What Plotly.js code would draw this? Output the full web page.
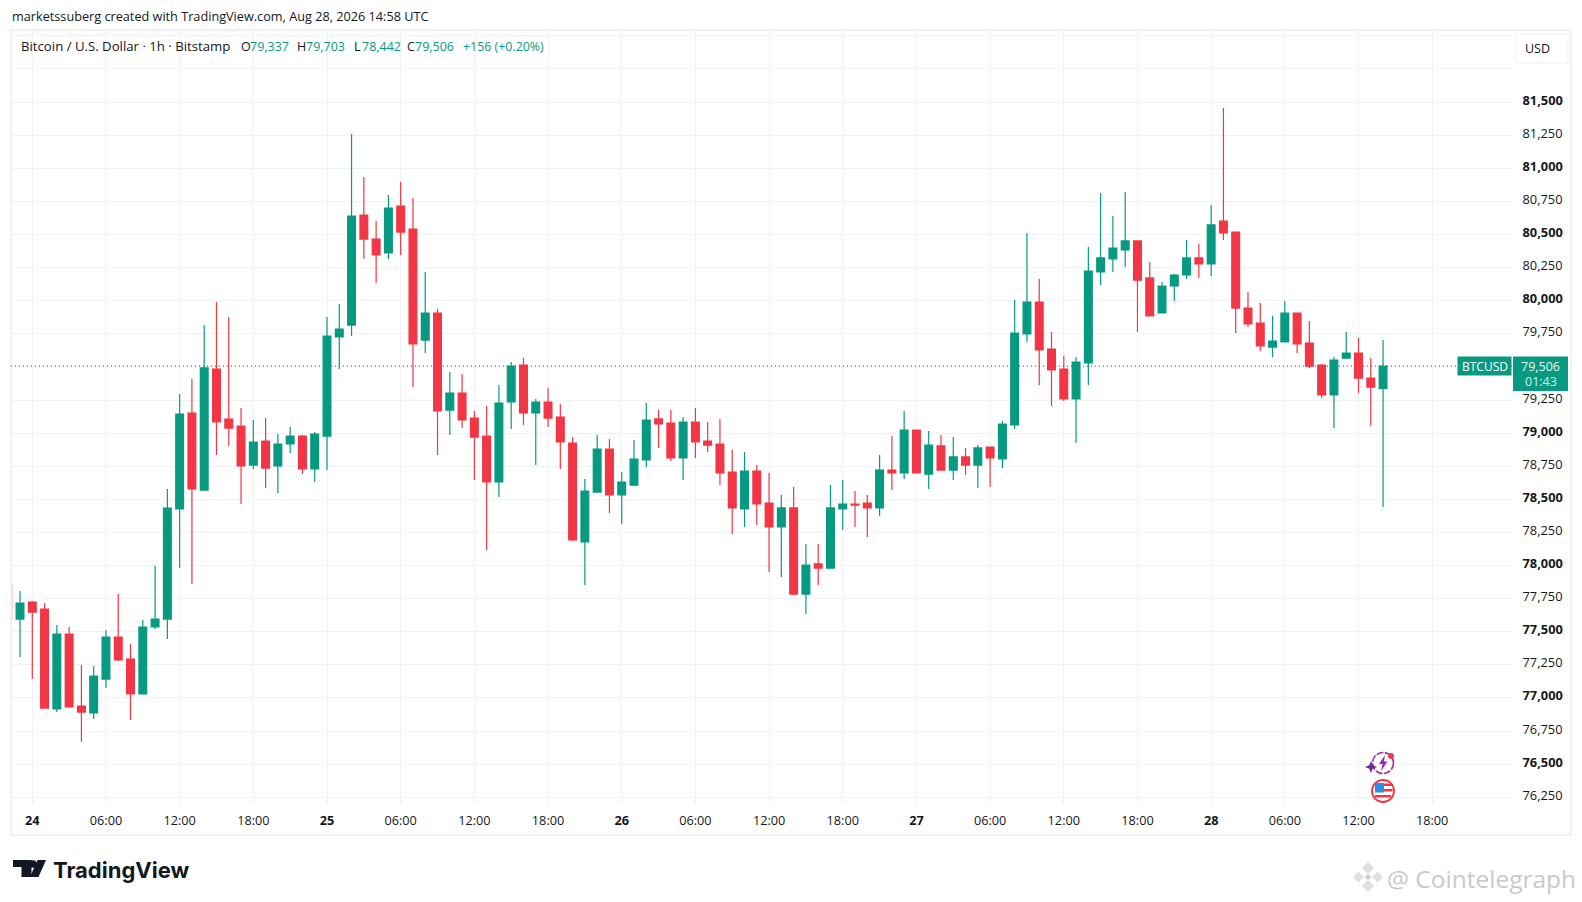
<!DOCTYPE html>
<html>
<head>
<meta charset="utf-8">
<title>BTCUSD 1h</title>
<script src="https://cdn.plot.ly/plotly-3.0.1.min.js"></script>
<style>
  html, body { margin: 0; padding: 0; background: #fff; }
</style>
</head>
<body>
<div id="chart"></div>
<script>
// hourly candles, first one is Aug 23 22:00
const open = [
  77853,77596,77725,77672,76917,77483,76939,76887,77143,77460,77294,77030,77536,77596,78427,79152,78570,79484,79106,79054,78759,78940,78752,78918,78978,78729,78978,
  79726,79816,80647,80465,80360,80715,80541,79703,79907,79174,79303,79114,78978,78631,79235,79514,79152,79235,79121,78925,78178,78555,78880,78533,78608,78797,
  79107,79076,78812,79084,78940,78918,78706,78427,78714,78472,78291,78435,77785,78012,77981,78427,78465,78472,78435,78721,78699,79023,78691,78903,78721,78820,78759,78895,78805,
  79062,79749,79990,79635,79484,79258,79530,80217,80315,80383,80451,80172,79907,80111,80194,80323,80277,80601,80518,79944,79831,79650,79688,79907,79680,79514,79288,79567,79605,79416,79337
];
const high = [
  77853,77808,77732,77717,77551,77536,77249,77241,77513,77785,77408,77589,77997,78578,79295,79408,79816,79990,79877,79190,79099,79114,78993,79046,78986,79008,79877,
  79975,81258,80934,80601,80798,80896,80775,80216,79937,79461,79446,79167,79205,79363,79537,79567,79257,79340,79220,78970,78653,78986,78955,78706,78948,79227,
  79174,79174,79122,79190,79084,79107,78872,78857,78759,78699,78533,78593,78163,78163,78608,78646,78563,78533,78835,78978,79167,79023,79016,78986,78971,78888,78910,78895,79091,
  80005,80511,80164,79764,79583,79575,80406,80813,80640,80821,80451,80292,80141,80202,80458,80428,80723,81455,80518,80065,79982,79884,79997,79907,79846,79522,79574,79763,79718,79567,79703
];
const low = [
  77596,77309,77143,76924,76894,76932,76670,76841,77075,77279,76834,77030,77521,77445,77981,77861,78570,78835,78903,78465,78729,78585,78548,78850,78691,78631,78721,
  79484,79733,80314,80133,80314,80345,79348,79605,78835,78986,79038,78646,78117,78517,79031,79061,78759,79046,78729,78185,77853,78555,78397,78314,78600,78744,
  78888,78789,78646,78812,78857,78608,78238,78291,78306,77951,77914,77778,77634,77853,77981,78268,78291,78216,78374,78570,78653,78699,78578,78721,78646,78684,78586,78593,78737,
  79031,79688,79364,79205,79243,78926,79364,80119,80217,80255,79764,79885,79907,79998,80164,80172,80187,80458,79756,79801,79620,79574,79688,79605,79491,79265,79038,79559,79303,79054,78442
];
const close = [
  77596,77717,77649,76924,77483,76932,76894,77166,77460,77287,77030,77536,77596,78434,79144,78578,79492,79084,79038,78752,78933,78736,78918,78978,78729,78993,79733,
  79786,80639,80465,80345,80700,80518,79673,79907,79167,79303,79099,78970,78631,79227,79507,79152,79235,79114,78933,78193,78563,78880,78533,78631,78804,79099,
  79069,78812,79084,78933,78910,78699,78435,78714,78465,78291,78435,77785,78004,77981,78435,78465,78457,78435,78721,78699,79023,78699,78910,78721,78820,78759,78888,78812,79069,
  79756,79990,79628,79477,79258,79537,80224,80323,80398,80451,80156,79885,80111,80194,80323,80277,80572,80511,79944,79824,79658,79695,79907,79673,79506,79288,79552,79605,79416,79348,79506
];

// x axis labels
const timeTickVals = [
  '2026-08-24 00:00','2026-08-24 06:00','2026-08-24 12:00','2026-08-24 18:00',
  '2026-08-25 00:00','2026-08-25 06:00','2026-08-25 12:00','2026-08-25 18:00',
  '2026-08-26 00:00','2026-08-26 06:00','2026-08-26 12:00','2026-08-26 18:00',
  '2026-08-27 00:00','2026-08-27 06:00','2026-08-27 12:00','2026-08-27 18:00',
  '2026-08-28 00:00','2026-08-28 06:00','2026-08-28 12:00','2026-08-28 18:00'
];
const timeTickText = [
  '<b>24</b>','06:00','12:00','18:00','<b>25</b>','06:00','12:00','18:00',
  '<b>26</b>','06:00','12:00','18:00','<b>27</b>','06:00','12:00','18:00',
  '<b>28</b>','06:00','12:00','18:00'
];
// y axis grid; 79,500 sits under the price tag and the top two have no label
const priceTickVals = [76250,76500,76750,77000,77250,77500,77750,78000,78250,78500,78750,79000,79250,79500,79750,80000,80250,80500,80750,81000,81250,81500,81750,82000];
const priceTickHidden = [79500,81750,82000];

const legendTitle = 'Bitcoin / U.S. Dollar · 1h · Bitstamp';
const lastPrice = 79506;

const UP = '#089981';
const DOWN = '#f23645';
const GRID = '#f1f2f4';
const TEXT = '#131722';
const FONT = '"Open Sans", sans-serif';

const W = 1582, H = 902;
const M = { l: 11, r: 70, t: 30, b: 97 };

// pixel position on the page -> paper coords, for the furniture around the chart
const px = x => (x - M.l) / (W - M.l - M.r);
const py = y => 1 - (y - M.t) / (H - M.t - M.b);

function note(x, y, text, color, size, extra) {
  return Object.assign({
    xref: 'paper', yref: 'paper', x: px(x), y: py(y), text: text, showarrow: false,
    xanchor: 'left', yanchor: 'middle', align: 'left', borderpad: 0,
    font: { family: FONT, size: size || 12, color: color || TEXT }
  }, extra || {});
}

function box(x0, y0, x1, y1, fill, line) {
  return {
    type: 'rect', xref: 'paper', yref: 'paper', x0: px(x0), y0: py(y0), x1: px(x1), y1: py(y1),
    fillcolor: fill || 'rgba(0,0,0,0)', line: line || { width: 0 }, layer: 'above'
  };
}

function ring(cx, cy, r, fill, line) {
  return {
    type: 'circle', xref: 'paper', yref: 'paper', x0: px(cx - r), y0: py(cy + r), x1: px(cx + r), y1: py(cy - r),
    fillcolor: fill || 'rgba(0,0,0,0)', line: line || { width: 0 }, layer: 'above'
  };
}

function poly(points, fill) {
  const d = points.map((p, i) => (i ? 'L' : 'M') + px(p[0]) + ',' + py(p[1])).join(' ') + ' Z';
  return { type: 'path', xref: 'paper', yref: 'paper', path: d, fillcolor: fill, line: { width: 0 }, layer: 'above' };
}

// small diamond for the watermark logo
function diamond(cx, cy, r, fill) {
  return poly([[cx, cy - r], [cx + r, cy], [cx, cy + r], [cx - r, cy]], fill);
}

const candleTimes = open.map((_, i) => new Date(Date.UTC(2026, 7, 23, 22 + i)).toISOString().slice(0, 16).replace('T', ' '));

const traces = [{
  type: 'candlestick',
  x: candleTimes,
  open: open,
  high: high,
  low: low,
  close: close,
  whiskerwidth: 0,
  increasing: { line: { color: UP, width: 1.2 }, fillcolor: UP },
  decreasing: { line: { color: DOWN, width: 1.2 }, fillcolor: DOWN },
  hoverinfo: 'skip',
  showlegend: false
}];

const shapes = [
  // outer frame
  box(11, 30, 1571, 835, null, { color: '#f0f1f3', width: 2 }),
  // last price line
  {
    type: 'line', xref: 'paper', yref: 'y', x0: 0, x1: 1, y0: lastPrice, y1: lastPrice,
    line: { color: UP, width: 1.2, dash: '1px,3px' }, layer: 'above'
  },
  // price tags
  box(1457.5, 356.5, 1511.5, 375.5, UP),
  box(1513, 356.5, 1568, 391, UP),
  // USD button
  box(1516, 34, 1568, 63, '#ffffff', { color: '#eef0f3', width: 1 }),
  // TradingView mark
  poly([[13, 860], [31.5, 860], [31.5, 877], [21.5, 877], [21.5, 867], [13, 867]], TEXT),
  ring(33, 864, 3.7, TEXT),
  poly([[37.5, 860], [46, 860], [38.5, 877], [30, 877]], TEXT),
  // news / ideas icon
  ring(1383, 763, 10.5, '#ffffff', { color: '#9c27b0', width: 1.6, dash: '7px,1.5px' }),
  poly([[1385, 755], [1379, 764], [1382.5, 764], [1381, 771], [1387.5, 761.5], [1384, 761.5]], '#9c27b0'),
  poly([[1371, 761], [1372.7, 765.3], [1377, 767], [1372.7, 768.7], [1371, 773], [1369.3, 768.7], [1365, 767], [1369.3, 765.3]], '#6a2a9c'),
  ring(1391, 756, 3, DOWN),
  // US flag icon
  ring(1383, 791, 11, '#ffffff', { color: DOWN, width: 1.8 }),
  box(1377, 783.5, 1392, 786, DOWN),
  box(1383, 789, 1392.5, 791.5, DOWN),
  box(1375, 795, 1391, 797.5, DOWN),
  box(1375, 783, 1384, 792.5, '#2f8fe8'),
  // watermark logo
  diamond(1368, 868, 6, '#e0e0e0'),
  diamond(1358.5, 877, 5.5, '#e0e0e0'),
  diamond(1377.5, 877, 5.5, '#e0e0e0'),
  diamond(1368, 886, 6, '#e0e0e0'),
  diamond(1368, 877, 3.5, '#d2d2d2')
];

const annotations = [
  note(11, 16, 'marketssuberg created with TradingView.com, Aug 28, 2026 14:58 UTC', TEXT, 12.7),
  note(20, 46.5, legendTitle, TEXT, 13.2),
  note(239.5, 46.5, 'O', TEXT, 12.5),
  note(248.9, 46.5, '79,337', UP, 12.5),
  note(295.8, 46.5, 'H', TEXT, 12.5),
  note(304.6, 46.5, '79,703', UP, 12.5),
  note(352.5, 46.5, 'L', TEXT, 12.5),
  note(360.7, 46.5, '78,442', UP, 12.5),
  note(405.5, 46.5, 'C', TEXT, 12.5),
  note(414.3, 46.5, '79,506', UP, 12.5),
  note(461.8, 46.5, '+156 (+0.20%)', UP, 12.4),
  note(1538, 48.5, 'USD', TEXT, 12.5, { xanchor: 'center' }),
  note(1484.5, 366, 'BTCUSD', '#ffffff', 12, { xanchor: 'center' }),
  note(1540.5, 366, '79,506', '#e6f5f2', 12.5, { xanchor: 'center' }),
  note(1540.5, 381, '01:43', '#d5efe9', 12.5, { xanchor: 'center' }),
  note(52, 870, '<b>TradingView</b>', TEXT, 22, { font: { family: 'Inter, sans-serif', size: 22, color: TEXT } }),
  note(1386, 878, '@ Cointelegraph', '#c9c9c9', 24.5)
];

const layout = {
  width: W,
  height: H,
  margin: { l: M.l, r: M.r, t: M.t, b: M.b, autoexpand: false },
  paper_bgcolor: '#ffffff',
  plot_bgcolor: '#ffffff',
  showlegend: false,
  boxgap: 0.365,
  boxgroupgap: 0,
  font: { family: FONT, size: 12, color: TEXT },
  xaxis: {
    type: 'date',
    range: ['2026-08-23 22:16', '2026-08-29 00:30'],
    rangeslider: { visible: false },
    tickmode: 'array',
    tickvals: timeTickVals,
    ticktext: timeTickText,
    tickangle: 0,
    ticks: 'outside',
    ticklen: 4,
    tickcolor: 'rgba(0,0,0,0)',
    tickfont: { family: FONT, size: 12.7, color: TEXT },
    showgrid: true,
    gridcolor: GRID,
    gridwidth: 1,
    zeroline: false,
    showline: false
  },
  yaxis: {
    side: 'right',
    range: [76192, 82044],
    tickmode: 'array',
    tickvals: priceTickVals,
    ticktext: priceTickVals.map(v => {
      if (priceTickHidden.includes(v)) return '';
      const label = v.toLocaleString('en-US');
      return v % 500 === 0 ? '<b>' + label + '</b>' : label;
    }),
    ticks: 'outside',
    ticklen: 7,
    ticklabelshift: -2,
    tickcolor: 'rgba(0,0,0,0)',
    tickfont: { family: FONT, size: 12.8, color: TEXT },
    showgrid: true,
    gridcolor: GRID,
    gridwidth: 1,
    zeroline: false,
    showline: false
  },
  shapes: shapes,
  annotations: annotations
};

Plotly.newPlot('chart', traces, layout, { staticPlot: true, displayModeBar: false });
</script>
</body>
</html>
